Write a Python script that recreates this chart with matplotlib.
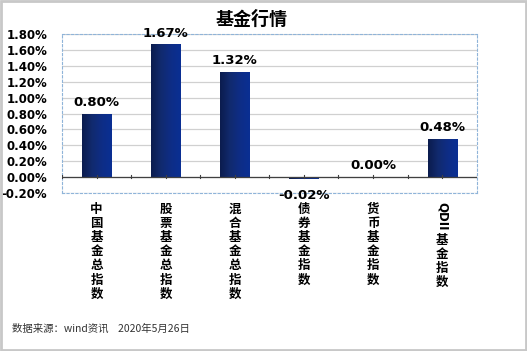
import matplotlib.pyplot as plt
import numpy as np
from matplotlib.colors import LinearSegmentedColormap
from matplotlib.patches import Rectangle

plt.rcParams['font.family'] = ['Noto Sans CJK SC', 'DejaVu Sans']

categories = ["中国基金总指数", "股票基金总指数", "混合基金总指数", "债券基金指数", "货币基金指数", "QDII基金指数"]
values = [0.80, 1.67, 1.32, -0.02, 0.00, 0.48]
yticks = [-0.2, 0.0, 0.2, 0.4, 0.6, 0.8, 1.0, 1.2, 1.4, 1.6, 1.8]

fig = plt.figure(figsize=(5.27, 3.51), dpi=100)
ax = fig.add_axes([0.1176, 0.450, 0.787, 0.453])
axh = 0.453 * 351  # axes height in px

x = np.arange(len(categories))
bars = ax.bar(x, values, width=0.42, color="#13307a", zorder=3)

# gradient fill on bars (dark left -> brighter right)
cmap = LinearSegmentedColormap.from_list("g", ["#0b1c4e", "#112a6e", "#0e2d86", "#0a2f93"])
grad = np.linspace(0, 1, 64).reshape(1, -1)
for b in bars:
    bx, by = b.get_x(), b.get_y()
    w, h = b.get_width(), b.get_height()
    if h == 0:
        continue
    im = ax.imshow(grad, cmap=cmap, aspect="auto", zorder=4,
                   extent=[bx, bx + w, min(by, by + h), max(by, by + h)])
    im.set_clip_path(b)

ax.set_xlim(-0.5, len(categories) - 0.5)
ax.set_ylim(-0.2, 1.8)
ax.set_yticks(yticks)
ax.set_yticklabels([f"{v:.2f}%" for v in yticks], fontsize=8.5, fontweight="bold",
                   family="DejaVu Sans")
ax.tick_params(axis="y", length=0, pad=10.5)
ax.grid(axis="y", color="#d0d0d0", linewidth=0.9, zorder=0)

# zero line with tick marks
ax.axhline(0, color="#404040", linewidth=0.9, zorder=5)
ax.set_xticks([])
for t in np.arange(-0.5, len(categories), 0.5):
    ax.plot([t, t], [-0.012, 0.03], color="#404040", linewidth=0.8, zorder=5)

for s in ax.spines.values():
    s.set_linestyle((0, (2, 2)))
    s.set_color("#8fb4d9")
    s.set_linewidth(0.8)

# value labels
for xi, v in zip(x, values):
    if v < 0:
        ax.text(xi, -0.235, f"{v:.2f}%", ha="center", va="center", fontsize=9.5,
                fontweight="bold", family="DejaVu Sans", zorder=6, clip_on=False)
    else:
        ax.text(xi, v + 0.06, f"{v:.2f}%", ha="center", va="bottom", fontsize=9.5,
                fontweight="bold", family="DejaVu Sans", zorder=6)

# vertical category labels
trans = ax.get_xaxis_transform()
step = 14.1 / axh
y0 = -10.0 / axh
for xi, lab in zip(x, categories):
    yy = y0
    if lab.startswith("QDII"):
        ax.text(xi, yy + 0.005, "QDII", rotation=-90, ha="center", va="top",
                fontsize=8.5, fontweight="bold", family="DejaVu Sans", transform=trans)
        yy -= 31.0 / axh
        lab = lab[4:]
    for ch in lab:
        ax.text(xi, yy, ch, ha="center", va="top", fontsize=9, fontweight="bold",
                transform=trans)
        yy -= step

fig.text(0.477, 0.945, "基金行情", ha="center", va="center", fontsize=13, fontweight="bold")
fig.text(0.022, 0.063, "数据来源：wind资讯    2020年5月26日", ha="left", va="center",
         fontsize=7.5, color="#333333")

fig.patches.append(Rectangle((0.002, 0.003), 0.996, 0.994, transform=fig.transFigure,
                             fill=False, edgecolor="#c8c8c8", linewidth=2))

fig.savefig("out.png", dpi=100)
